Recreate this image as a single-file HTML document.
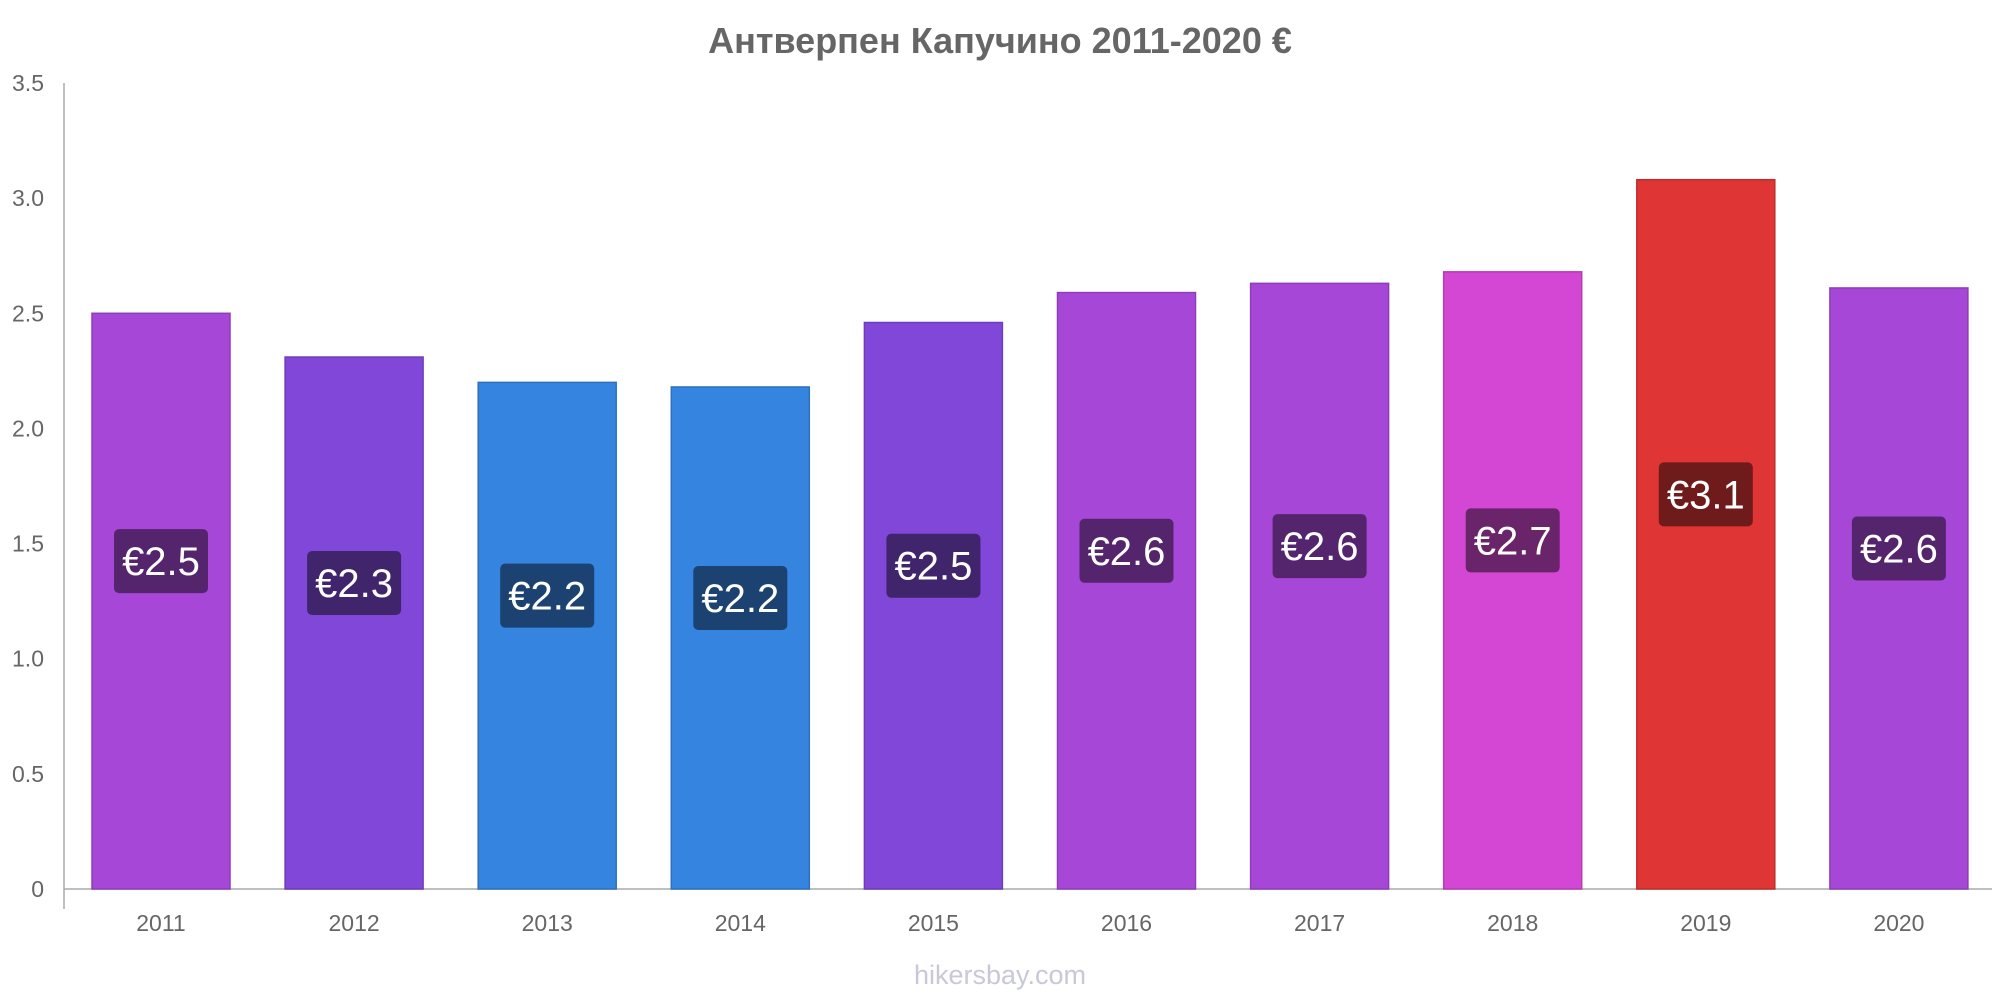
<!DOCTYPE html>
<html><head><meta charset="utf-8"><style>
html,body{margin:0;padding:0;background:#fff;}
svg text{font-family:"Liberation Sans",sans-serif;}
</style></head><body>
<svg id="chart" width="2000" height="1000" xmlns="http://www.w3.org/2000/svg">
<text x="1000" y="53" text-anchor="middle" font-size="36" font-weight="bold" fill="#666">Антверпен Капучино 2011-2020 €</text>
<g id="yticks"></g>
<line x1="64" y1="83" x2="64" y2="909" stroke="#aaa" stroke-width="1.5"/>
<line x1="64" y1="889" x2="1992" y2="889" stroke="#aaa" stroke-width="1.5"/>
<g id="bars"></g>
<text x="1000" y="984" text-anchor="middle" font-size="27" fill="#c8c8d8">hikersbay.com</text>
</svg>
<script>
const years = ["2011","2012","2013","2014","2015","2016","2017","2018","2019","2020"];
const prices = [2.50,2.31,2.20,2.18,2.46,2.59,2.63,2.68,3.08,2.61];
const colors = ["#a747d8","#8047d8","#3584e0","#3584e0","#8047d8","#a747d8","#a747d8","#d447d4","#e03535","#a747d8"];
const yTicks = [0,0.5,1,1.5,2,2.5,3,3.5];
const tickLabels = ["0","0.5","1.0","1.5","2.0","2.5","3.0","3.5"];
const NS="http://www.w3.org/2000/svg";
const y0=889, yTop=83, yMax=3.5;
function yScale(v){return y0-(v/yMax)*(y0-yTop);}
function xCenter(i){return 161+i*193.1;}
const barW=138;
function darken(hex,f){const n=parseInt(hex.slice(1),16);const r=Math.round(((n>>16)&255)*f),g=Math.round(((n>>8)&255)*f),b=Math.round((n&255)*f);return `rgb(${r},${g},${b})`;}
function mk(tag,attrs,parent){const e=document.createElementNS(NS,tag);for(const k in attrs)e.setAttribute(k,attrs[k]);parent.appendChild(e);return e;}
const yt=document.getElementById('yticks');
yTicks.forEach((v,i)=>{
  const t=mk('text',{x:44,y:yScale(v)+8,'text-anchor':'end','font-size':23,fill:'#666'},yt);
  
  
  t.textContent=tickLabels[i];
});
const bg=document.getElementById('bars');
years.forEach((yr,i)=>{
  const cx=xCenter(i), top=yScale(prices[i]);
  const r=mk('rect',{x:cx-barW/2,y:top,width:barW,height:y0-top,fill:colors[i],stroke:darken(colors[i],0.85),'stroke-width':1.5},bg);
  
  
  const ly=(top+y0)/2-40;
  const box=mk('rect',{x:cx-47,y:ly-32,width:94,height:64,rx:5,fill:darken(colors[i],0.5)},bg);
  
  
  const t=mk('text',{x:cx,y:ly+14,'text-anchor':'middle','font-size':40,fill:'#fff'},bg);
  
  
  t.textContent='€'+prices[i].toFixed(1);
  const xl=mk('text',{x:cx,y:931,'text-anchor':'middle','font-size':23,fill:'#666'},bg);
  
  
  xl.textContent=yr;
});
</script>
</body></html>
